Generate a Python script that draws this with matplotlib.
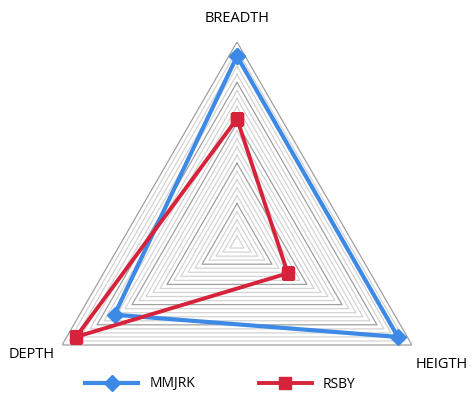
import numpy as np
import matplotlib.pyplot as plt

# axes in clockwise order from the top
axes_labels = ["BREADTH", "HEIGTH", "DEPTH"]
mmjrk = [0.93, 0.92, 0.70]
rsby = [0.62, 0.29, 0.92]
levels = np.arange(1, 26) / 25.0

angles = np.linspace(0, 2 * np.pi, len(axes_labels), endpoint=False)
ang_closed = np.append(angles, angles[0])

fig = plt.figure(figsize=(4.74, 4.2), dpi=100)
ax = fig.add_axes([35 / 474, -26 / 420, 404 / 474, 404 / 420], projection="polar")
ax.set_theta_offset(np.pi / 2)
ax.set_theta_direction(-1)
ax.set_ylim(0, 1)
ax.grid(False)
ax.set_xticks([])
ax.set_yticks([])
ax.spines["polar"].set_visible(False)
ax.patch.set_alpha(0)

# triangular grid, every 5th level darker
for i, lv in enumerate(levels):
    major = (i + 1) % 5 == 0
    ax.plot(ang_closed, [lv] * 4, color="#a0a0a0" if major else "#d4d4d4",
            lw=0.9, zorder=1)

ax.plot(ang_closed, mmjrk + mmjrk[:1], color="#3d8ae6", lw=3.0, marker="D",
        ms=8, label="MMJRK", zorder=3)
ax.plot(ang_closed, rsby + rsby[:1], color="#d6223a", lw=2.8, marker="s",
        ms=9, label="RSBY", zorder=4)

fig.text(237 / 474, 1 - 18 / 420, axes_labels[0], ha="center", va="center",
         fontsize=10.5, family="Open Sans")
fig.text(442 / 474, 1 - 364 / 420, axes_labels[1], ha="center", va="center",
         fontsize=10.5, family="Open Sans")
fig.text(32 / 474, 1 - 355 / 420, axes_labels[2], ha="center", va="center",
         fontsize=10.5, family="Open Sans")

leg = fig.legend(loc="center", bbox_to_anchor=(0.465, 1 - 384 / 420), ncol=2,
                 frameon=False, handlelength=3.8, columnspacing=4.6,
                 prop={"family": "Open Sans", "size": 10})

fig.savefig("out.png", dpi=100)
